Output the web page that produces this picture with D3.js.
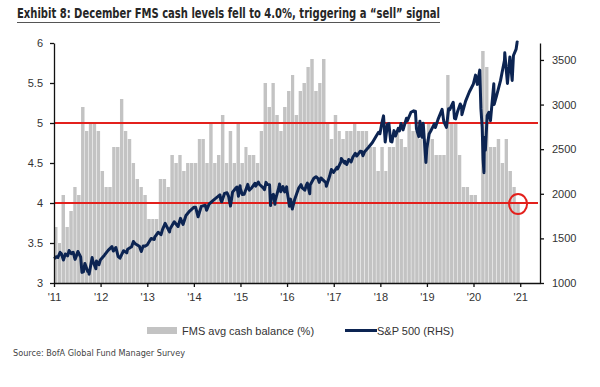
<!DOCTYPE html>
<html>
<head>
<meta charset="utf-8">
<script src="https://cdn.jsdelivr.net/npm/d3@7"></script>
<style>
  body { margin: 0; background: #fff; }
  text { font-family: "Liberation Sans", Arial, sans-serif; }
</style>
</head>
<body>
<div id="chart"></div>
<script>
// FMS avg cash balance (%), monthly from Jan 2011 to Dec 2020
let cashStart = [2011, 0];
let cashBalance = [
  3.7, 3.5, 4.1, 3.7, 3.9, 4.2, 4.1, 5.2, 4.9, 5.0, 5.0, 4.9,
  4.4, 4.2, 4.2, 4.7, 4.7, 5.3, 4.9, 4.8, 4.5, 4.3, 4.2, 4.1,
  3.8, 3.8, 3.8, 4.3, 4.3, 4.2, 4.6, 4.5, 4.6, 4.4, 4.5, 4.5,
  4.5, 4.8, 4.8, 4.5, 5.0, 4.5, 4.6, 5.1, 4.5, 4.9, 4.5, 5.0,
  4.5, 4.7, 4.6, 4.6, 4.5, 4.9, 5.5, 5.2, 5.5, 5.1, 4.9, 5.2,
  5.4, 5.6, 5.1, 5.4, 5.5, 5.7, 5.8, 5.4, 5.5, 5.8, 5.0, 4.8,
  5.1, 4.9, 4.8, 4.9, 4.9, 5.0, 4.9, 4.9, 4.9, 4.7, 4.7, 4.4,
  4.7, 4.4, 4.7, 4.7, 4.9, 4.8, 4.7, 5.0, 4.9, 4.9, 4.8, 4.8,
  5.0, 4.8, 4.6, 4.6, 4.6, 5.6, 5.0, 5.0, 4.6, 4.2, 4.2, 4.1,
  4.1, 4.0, 5.9, 5.7, 4.7, 4.7, 4.8, 4.5, 4.8, 4.4, 4.2, 4.0
];

// S&P 500 (RHS)
let spx = [
  ["2011-01-03",1271],["2011-01-18",1295],["2011-01-31",1286],["2011-02-18",1343],["2011-02-28",1327],
  ["2011-03-16",1257],["2011-03-31",1326],["2011-04-18",1305],["2011-04-29",1364],["2011-05-16",1329],
  ["2011-05-31",1345],["2011-06-15",1265],["2011-06-30",1321],["2011-07-07",1353],["2011-07-29",1292],
  ["2011-08-08",1119],["2011-08-19",1124],["2011-08-31",1219],["2011-09-22",1129],["2011-09-30",1131],
  ["2011-10-03",1099],["2011-10-27",1285],["2011-10-31",1253],["2011-11-25",1159],["2011-11-30",1247],
  ["2011-12-19",1205],["2011-12-30",1258],
  ["2012-01-31",1312],["2012-02-29",1366],["2012-03-30",1408],["2012-04-10",1358],["2012-04-30",1398],
  ["2012-05-18",1295],["2012-06-01",1278],["2012-06-29",1362],["2012-07-24",1338],["2012-07-31",1379],
  ["2012-08-31",1406],["2012-09-14",1466],["2012-09-28",1441],["2012-10-31",1412],["2012-11-15",1353],
  ["2012-11-30",1416],["2012-12-14",1413],["2012-12-31",1426],
  ["2013-01-31",1498],["2013-02-25",1488],["2013-02-28",1515],["2013-03-28",1569],["2013-04-18",1541],
  ["2013-04-30",1598],["2013-05-21",1669],["2013-06-24",1573],["2013-06-28",1606],["2013-07-31",1686],
  ["2013-08-30",1633],["2013-09-18",1725],["2013-09-30",1682],["2013-10-08",1656],["2013-10-31",1757],
  ["2013-11-29",1806],["2013-12-31",1848],
  ["2014-01-15",1848],["2014-02-03",1742],["2014-02-28",1859],["2014-03-31",1872],["2014-04-11",1815],
  ["2014-04-30",1884],["2014-05-30",1924],["2014-06-30",1960],["2014-07-24",1988],["2014-07-31",1931],
  ["2014-08-07",1910],["2014-08-29",2003],["2014-09-18",2011],["2014-09-30",1972],["2014-10-15",1862],
  ["2014-10-31",2018],["2014-11-28",2068],["2014-12-05",2075],["2014-12-16",1973],["2014-12-29",2090],
  ["2014-12-31",2059],
  ["2015-01-15",1992],["2015-01-30",1995],["2015-02-27",2105],["2015-03-11",2040],["2015-03-31",2068],
  ["2015-04-24",2117],["2015-04-30",2086],["2015-05-21",2131],["2015-05-29",2107],["2015-06-30",2063],
  ["2015-07-08",2046],["2015-07-20",2128],["2015-07-31",2104],["2015-08-17",2102],["2015-08-25",1868],
  ["2015-08-31",1972],["2015-09-16",1995],["2015-09-28",1882],["2015-09-30",1920],["2015-10-30",2079],
  ["2015-11-03",2109],["2015-11-13",2023],["2015-11-30",2080],["2015-12-14",2021],["2015-12-29",2078],
  ["2015-12-31",2044],
  ["2016-01-20",1859],["2016-01-29",1940],["2016-02-11",1829],["2016-02-29",1932],["2016-03-31",2060],
  ["2016-04-20",2102],["2016-04-29",2065],["2016-05-19",2040],["2016-05-31",2097],["2016-06-08",2119],
  ["2016-06-27",2001],["2016-06-30",2099],["2016-07-29",2174],["2016-08-15",2191],["2016-08-31",2171],
  ["2016-09-09",2128],["2016-09-22",2177],["2016-09-30",2168],["2016-10-31",2126],["2016-11-04",2085],
  ["2016-11-30",2199],["2016-12-13",2272],["2016-12-30",2239],
  ["2017-01-26",2297],["2017-01-31",2279],["2017-02-28",2364],["2017-03-01",2396],["2017-03-27",2342],
  ["2017-03-31",2363],["2017-04-13",2329],["2017-04-28",2384],["2017-05-17",2357],["2017-05-31",2412],
  ["2017-06-19",2453],["2017-06-30",2423],["2017-07-27",2476],["2017-08-08",2474],["2017-08-18",2426],
  ["2017-08-31",2472],["2017-09-29",2519],["2017-10-31",2575],["2017-11-30",2648],["2017-12-18",2690],
  ["2017-12-29",2674],
  ["2018-01-12",2786],["2018-01-26",2873],["2018-02-08",2581],["2018-02-26",2780],["2018-03-09",2786],
  ["2018-03-23",2588],["2018-04-02",2582],["2018-04-18",2708],["2018-04-30",2648],["2018-05-21",2733],
  ["2018-05-31",2705],["2018-06-12",2787],["2018-06-28",2716],["2018-07-25",2846],["2018-07-31",2816],
  ["2018-08-29",2914],["2018-09-20",2931],["2018-09-28",2914],["2018-10-03",2925],["2018-10-11",2728],
  ["2018-10-29",2641],["2018-11-07",2814],["2018-11-23",2633],["2018-12-03",2790],["2018-12-24",2351],
  ["2018-12-31",2507],
  ["2019-01-18",2671],["2019-01-31",2704],["2019-02-28",2784],["2019-03-08",2743],["2019-03-29",2834],
  ["2019-04-30",2946],["2019-05-13",2812],["2019-06-03",2744],["2019-06-20",2954],["2019-06-28",2942],
  ["2019-07-26",3026],["2019-08-05",2845],["2019-08-14",2840],["2019-08-30",2926],["2019-09-19",3006],
  ["2019-09-30",2977],["2019-10-02",2887],["2019-10-31",3038],["2019-11-29",3141],["2019-12-31",3231],
  ["2020-01-17",3330],["2020-01-31",3226],["2020-02-19",3386],["2020-02-28",2954],["2020-03-09",2747],
  ["2020-03-16",2386],["2020-03-23",2237],["2020-03-26",2630],["2020-04-03",2489],["2020-04-17",2875],
  ["2020-04-30",2912],["2020-05-13",2820],["2020-06-08",3232],["2020-06-11",3002],["2020-06-30",3100],
  ["2020-07-31",3271],["2020-08-31",3500],["2020-09-02",3580],["2020-09-23",3237],["2020-10-12",3534],
  ["2020-10-30",3270],["2020-11-09",3550],["2020-11-30",3622],["2020-12-08",3702],["2020-12-15",3695]
];

let yearTicks = d3.range(2011, 2022);
let leftTicks = [3, 3.5, 4, 4.5, 5, 5.5, 6];
let rightTicks = [1000, 1500, 2000, 2500, 3000, 3500];
let signalLevels = [5, 4];
let signalPoint = ["2020-12-01", 4.0];

let svgWidth = 600;
let svgHeight = 387;

let margin = { top: 43, right: 60, bottom: 104, left: 54 };
let width = svgWidth - margin.left - margin.right;
let height = svgHeight - margin.top - margin.bottom;

let parseDate = d3.timeParse("%Y-%m-%d");

let svg = d3.select("#chart")
  .append("svg")
  .attr("width", svgWidth)
  .attr("height", svgHeight);

// Title
svg.append("text")
  .attr("x", 17)
  .attr("y", 18)
  .attr("textLength", 423)
  .attr("lengthAdjust", "spacingAndGlyphs")
  .style("font-family", "'Liberation Sans Narrow', 'DejaVu Sans Condensed', sans-serif")
  .style("font-weight", "bold")
  .style("font-size", "14px")
  .attr("fill", "#262626")
  .text("Exhibit 8: December FMS cash levels fell to 4.0%, triggering a \u201csell\u201d signal");

svg.append("line")
  .attr("x1", 17).attr("x2", 440)
  .attr("y1", 22.5).attr("y2", 22.5)
  .attr("stroke", "#555")
  .attr("stroke-width", 1);

let chartGroup = svg.append("g")
  .attr("transform", `translate(${margin.left}, ${margin.top})`);

// Scales
let xTimeScale = d3.scaleTime()
  .domain([new Date(2011, 0, 1), new Date(2021, 5, 5)])
  .range([0, width]);

let yLeftScale = d3.scaleLinear()
  .domain([3, 6])
  .range([height, 0]);

let yRightScale = d3.scaleLinear()
  .domain([1000, 3690])
  .range([height, 0]);

// Bars
let barData = cashBalance.map((v, i) => ({
  start: new Date(cashStart[0], cashStart[1] + i, 1),
  end: new Date(cashStart[0], cashStart[1] + i + 1, 1),
  value: v
}));

chartGroup.selectAll(".bar")
  .data(barData)
  .enter()
  .append("rect")
  .attr("class", "bar")
  .attr("x", d => xTimeScale(d.start))
  .attr("width", d => xTimeScale(d.end) - xTimeScale(d.start) - 0.5)
  .attr("y", d => yLeftScale(d.value))
  .attr("height", d => yLeftScale(3) - yLeftScale(d.value))
  .attr("fill", "#c3c3c3");

// Signal lines
chartGroup.selectAll(".signal")
  .data(signalLevels)
  .enter()
  .append("line")
  .attr("x1", 0)
  .attr("x2", width - 2)
  .attr("y1", d => yLeftScale(d))
  .attr("y2", d => yLeftScale(d))
  .attr("stroke", "#e3201c")
  .attr("stroke-width", 2.2);

// S&P 500 line
let spxLine = d3.line()
  .x(d => xTimeScale(parseDate(d[0])))
  .y(d => yRightScale(d[1]));

chartGroup.append("path")
  .datum(spx)
  .attr("d", spxLine)
  .attr("fill", "none")
  .attr("stroke", "#0c2452")
  .attr("stroke-width", 3)
  .attr("stroke-linejoin", "round");

// Circle for the latest reading
chartGroup.append("ellipse")
  .attr("cx", xTimeScale(d3.timeDay.offset(parseDate(signalPoint[0]), 14)))
  .attr("cy", yLeftScale(signalPoint[1]) + 1)
  .attr("rx", 9)
  .attr("ry", 10)
  .attr("fill", "none")
  .attr("stroke", "#e3201c")
  .attr("stroke-width", 2);

// Axes
let xAxis = d3.axisBottom(xTimeScale)
  .tickValues(yearTicks.map(y => new Date(y, 0, 1)))
  .tickFormat(d => "'" + String(d.getFullYear()).slice(2))
  .tickSize(4)
  .tickSizeOuter(0)
  .tickPadding(6);

let yLeftAxis = d3.axisLeft(yLeftScale)
  .tickValues(leftTicks)
  .tickFormat(d => d)
  .tickSize(4)
  .tickSizeOuter(0)
  .tickPadding(7);

let yRightAxis = d3.axisRight(yRightScale)
  .tickValues(rightTicks)
  .tickFormat(d => d)
  .tickSize(4)
  .tickSizeOuter(0)
  .tickPadding(8);

chartGroup.append("g")
  .attr("transform", `translate(0, ${height})`)
  .call(xAxis);

chartGroup.append("g")
  .call(yLeftAxis);

chartGroup.append("g")
  .attr("transform", `translate(${width}, 0)`)
  .call(yRightAxis);

chartGroup.selectAll(".domain, .tick line")
  .attr("stroke", "#111")
  .attr("stroke-width", 1.3);

chartGroup.selectAll(".tick text")
  .style("font-family", "'Liberation Sans', Arial, sans-serif")
  .style("font-size", "11px")
  .attr("fill", "#333");

// Legend
let legend = svg.append("g");

legend.append("rect")
  .attr("x", 147).attr("y", 327)
  .attr("width", 30).attr("height", 7)
  .attr("fill", "#c3c3c3");

legend.append("text")
  .attr("x", 182).attr("y", 335)
  .style("font-size", "11px")
  .attr("fill", "#333")
  .text("FMS avg cash balance (%)");

legend.append("line")
  .attr("x1", 345).attr("x2", 377)
  .attr("y1", 330.5).attr("y2", 330.5)
  .attr("stroke", "#0c2452")
  .attr("stroke-width", 3);

legend.append("text")
  .attr("x", 377).attr("y", 335)
  .style("font-size", "11px")
  .attr("fill", "#333")
  .text("S&P 500 (RHS)");

// Source
svg.append("text")
  .attr("x", 13).attr("y", 356)
  .attr("textLength", 172)
  .attr("lengthAdjust", "spacingAndGlyphs")
  .style("font-family", "'Liberation Sans Narrow', 'DejaVu Sans Condensed', sans-serif")
  .style("font-size", "9.5px")
  .attr("fill", "#444")
  .text("Source: BofA Global Fund Manager Survey");
</script>
</body>
</html>
